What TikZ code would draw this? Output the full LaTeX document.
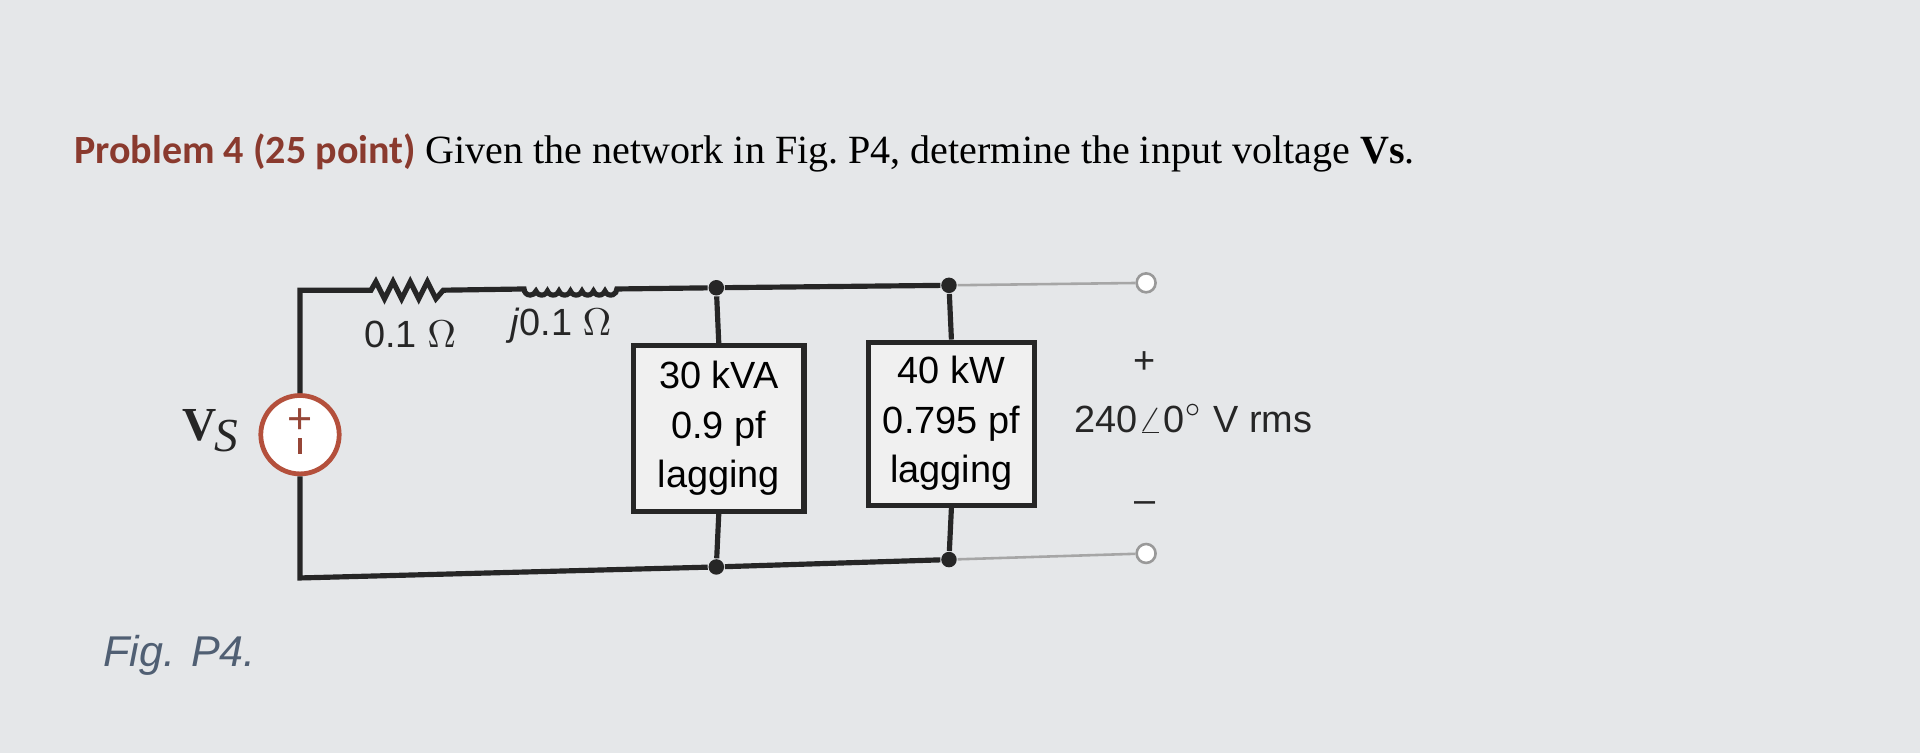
\documentclass[tikz,border=0pt]{standalone}
\usepackage{fontspec}
\setmainfont{Liberation Serif}
\newfontfamily\lab{Liberation Sans}
\newfontfamily\carl{Carlito}
\definecolor{srcc}{RGB}{180,80,60}
\definecolor{sgn}{RGB}{150,70,55}
\definecolor{ttl}{HTML}{8A3A2E}
\definecolor{figc}{RGB}{80,95,115}
\definecolor{bg}{RGB}{229,231,233}
\begin{document}
\begin{tikzpicture}[x=0.01cm,y=-0.01cm,
  wire/.style={line width=1.2pt,black!85},
  gw/.style={line width=0.6pt,black!35},
  dot/.style={circle,fill=black!85,inner sep=0pt,minimum size=3.6pt},
  term/.style={circle,draw=black!40,line width=0.6pt,fill=white,minimum size=4.4pt,inner sep=0pt},
  box/.style={draw=black!85,line width=1.2pt,fill=white!94!black,align=center,font=\lab\fontsize{8.8}{11.5}\selectfont},
  lbl/.style={font=\lab\fontsize{8.8}{10}\selectfont,text=black!85}]
\fill[bg] (0,0) rectangle (1568,615);
\useasboundingbox (0,0) rectangle (1568,615);
\node[anchor=west,inner sep=0pt] (title) at (60,125) {\fontsize{9.3}{11}\selectfont{\carl\bfseries\color{ttl}Problem 4 (25 point)} Given the network in Fig.~P4, determine the input voltage \textbf{Vs}.};
\coordinate (tl) at (245,237);
\coordinate (bl) at (245,472);
\node[dot] (n1) at (585,235) {};
\node[dot] (n2) at (775,233) {};
\node[dot] (n3) at (585,463) {};
\node[dot] (n4) at (775,457) {};
\node[term] (t1) at (936,231) {};
\node[term] (t2) at (936,452) {};
\node[circle,draw=srcc,line width=1.1pt,fill=white,inner sep=0pt,minimum size=0.64cm] (src) at (245,355) {};
\node[box,minimum width=1.39cm,minimum height=1.35cm] (b1) at (587,350) {30 kVA\\0.9 pf\\lagging};
\node[box,minimum width=1.31cm,minimum height=1.31cm] (b2) at (777,346) {40 kW\\0.795 pf\\lagging};
\draw[wire] (src.north) -- (tl) -- (303,237)
  -- (307,230) -- (314,244) -- (321,230) -- (328,244) -- (335,230) -- (342,244) -- (349,230) -- (356,244) -- (362,237)
  -- (428,236)
  arc[start angle=180,end angle=20,radius=5] arc[start angle=160,end angle=20,radius=5] arc[start angle=160,end angle=20,radius=5] arc[start angle=160,end angle=20,radius=5] arc[start angle=160,end angle=20,radius=5] arc[start angle=160,end angle=20,radius=5] arc[start angle=160,end angle=20,radius=5] arc[start angle=160,end angle=0,radius=5]
  -- (n1) -- (n2);
\draw[wire] (src.south) -- (bl) -- (n3) -- (n4);
\draw[wire] (n1) -- (b1.north);
\draw[wire] (b1.south) -- (n3);
\draw[wire] (n2) -- (b2.north);
\draw[wire] (b2.south) -- (n4);
\draw[gw] (n2) -- (t1);
\draw[gw] (n4) -- (t2);
\node[font=\lab\fontsize{10}{10}\selectfont,text=sgn] (plus) at (245,344) {+};
\draw[line width=0.8pt,sgn] (245,358) -- (245,371);
\node[font=\bfseries\fontsize{11}{11}\selectfont,text=black!85] (vs) at (172,352) {V\kern-0.5pt\raisebox{-2.5pt}{\itshape\mdseries S}};
\node[lbl] (r) at (335,273) {0.1 $\Omega$};
\node[lbl] (l) at (458,266) {\textit{j}0.1 $\Omega$};
\node[lbl] (p) at (935,296) {+};
\node[lbl] (m) at (935,414) {\textendash};
\node[lbl,anchor=west] (v) at (865,342) {240$\angle$0$^\circ$ V rms};
\node[font=\lab\itshape\fontsize{10}{10}\selectfont,text=figc,anchor=west] (fig) at (72,535) {Fig. P4.};
\end{tikzpicture}
\end{document}
